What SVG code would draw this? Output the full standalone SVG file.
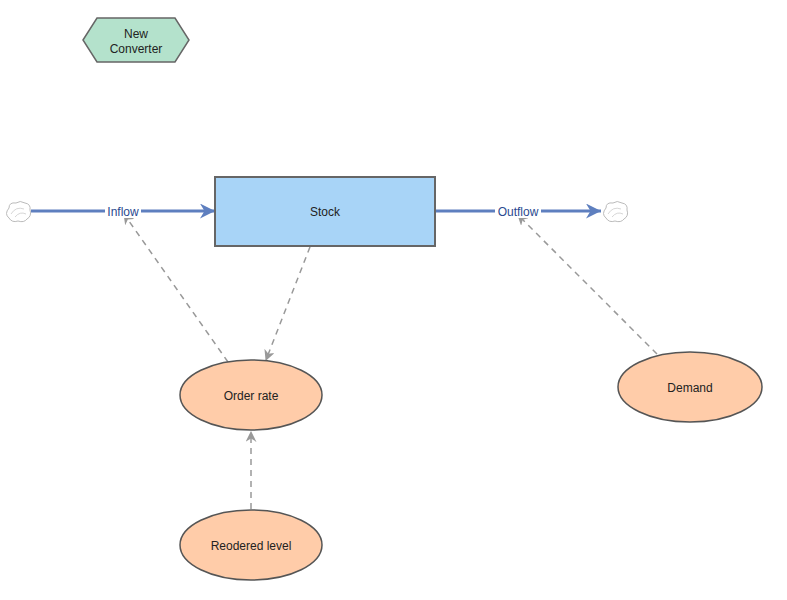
<svg xmlns="http://www.w3.org/2000/svg" width="787" height="600" viewBox="0 0 787 600">
<defs>
<style>
text{font-family:"Comic Sans MS","Liberation Sans",sans-serif;font-size:12px;fill:#222;text-anchor:middle;dominant-baseline:central}
.aux{fill:#ffcca9;stroke:#555;stroke-width:1.5}
.dep{fill:none;stroke:#999;stroke-width:1.5;stroke-dasharray:6 5;marker-end:url(#dash)}
.flow{fill:none;stroke:#5e7fbf;stroke-width:3;marker-end:url(#fa)}
.flowlbl{fill:#2a4a90}
.cloud{fill:#fff;stroke:#bbb;stroke-width:1}
</style>
<marker id="dash" viewBox="0 0 10 10" refX="9" refY="5" markerWidth="11" markerHeight="11" markerUnits="userSpaceOnUse" orient="auto">
<path d="M0,0 L10,5 L0,10 L3,5 Z" fill="#999"/>
</marker>
<marker id="fa" viewBox="0 0 10 10" refX="10" refY="5" markerWidth="15" markerHeight="15" markerUnits="userSpaceOnUse" orient="auto">
<path d="M0,0 L10,5 L0,10 L3,5 Z" fill="#5e7fbf"/>
</marker>
</defs>
<g id="connectors">
<line class="flow" x1="31" y1="211" x2="215" y2="211"/>
<line class="flow" x1="435" y1="211" x2="601" y2="211"/>
<line class="dep" x1="310" y1="247" x2="266" y2="360"/>
<line class="dep" x1="228" y1="362" x2="124" y2="214"/>
<line class="dep" x1="251" y1="509" x2="251" y2="432"/>
<line class="dep" x1="657" y1="354" x2="518" y2="215"/>
</g>
<g id="cloud-in">
<path class="cloud" d="M9,208 Q9,202 16,203 Q20,200 25,203 Q31,204 30,210 Q32,216 27,219 Q24,223 18,221 Q12,223 9,218 Q4,214 9,208 Z"/>
<path d="M11,214 Q16,206 24,209 M15,217 Q20,211 26,214" fill="none" stroke="#ccc" stroke-width="0.8"/>
</g>
<g id="cloud-out">
<path class="cloud" d="M606,208 Q606,202 613,203 Q617,200 622,203 Q628,204 627,210 Q629,216 624,219 Q621,223 615,221 Q609,223 606,218 Q601,214 606,208 Z"/>
<path d="M608,214 Q613,206 621,209 M612,217 Q617,211 623,214" fill="none" stroke="#ccc" stroke-width="0.8"/>
</g>
<g id="inflow-label">
<rect x="105" y="205" width="36" height="13" fill="#fff"/>
<text class="flowlbl" x="123" y="212">Inflow</text>
</g>
<g id="outflow-label">
<rect x="495" y="205" width="46" height="13" fill="#fff"/>
<text class="flowlbl" x="518" y="212">Outflow</text>
</g>
<g id="new-converter">
<polygon points="83,40 97,18 175,18 189,40 175,62 97,62" fill="#b4e2cc" stroke="#666" stroke-width="1.5"/>
<text x="136" y="34">New</text>
<text x="136" y="49">Converter</text>
</g>
<g id="stock">
<rect x="215" y="177" width="220" height="69" fill="#a8d4f7" stroke="#666" stroke-width="2"/>
<text x="325" y="212">Stock</text>
</g>
<g id="order-rate">
<ellipse class="aux" cx="251" cy="395" rx="71" ry="35"/>
<text x="251" y="396">Order rate</text>
</g>
<g id="reodered-level">
<ellipse class="aux" cx="251" cy="545" rx="71" ry="35"/>
<text x="251" y="546">Reodered level</text>
</g>
<g id="demand">
<ellipse class="aux" cx="690" cy="387" rx="72" ry="35"/>
<text x="690" y="388">Demand</text>
</g>
</svg>
